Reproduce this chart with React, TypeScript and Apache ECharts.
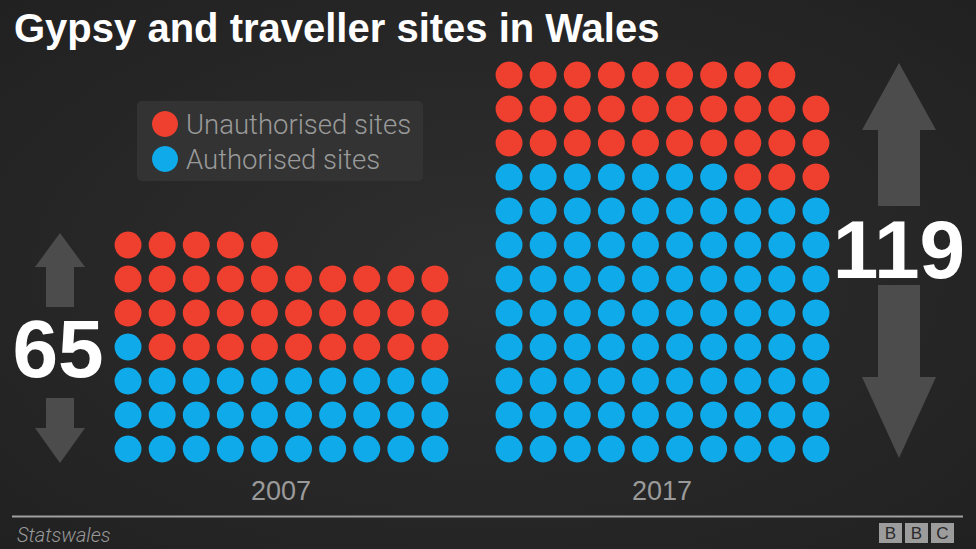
import React, { useEffect, useRef } from "react";
import * as echarts from "echarts";

const years = ["2007", "2017"];
const authorised = [31, 87];
const unauthorised = [34, 32];
const columnsPerRow = 10;
const seriesNames = ["Unauthorised sites", "Authorised sites"];
const colors = { unauthorised: "#ee3f2f", authorised: "#0eaaea" };

function dots(start: number, count: number): number[][] {
  const out: number[][] = [];
  for (let i = start; i < start + count; i++) {
    out.push([i % columnsPerRow, Math.floor(i / columnsPerRow)]);
  }
  return out;
}

function arrowUp(cx: number, tip: number, headBase: number, shaftEnd: number, headHalf: number, shaftHalf: number) {
  return [
    [cx, tip],
    [cx + headHalf, headBase],
    [cx + shaftHalf, headBase],
    [cx + shaftHalf, shaftEnd],
    [cx - shaftHalf, shaftEnd],
    [cx - shaftHalf, headBase],
    [cx - headHalf, headBase],
  ];
}

export default function App() {
  const ref = useRef<HTMLDivElement>(null);
  useEffect(() => {
    if (!ref.current) return;
    const chart = echarts.init(ref.current, undefined, { renderer: "svg" });
    const totals = years.map((_, i) => authorised[i] + unauthorised[i]);
    const grids = [
      { left: 111, top: 58, width: 341, height: 408 },
      { left: 492, top: 58, width: 341, height: 408 },
    ];
    const series: any[] = [];
    years.forEach((_, i) => {
      series.push({
        name: seriesNames[1],
        type: "scatter",
        xAxisIndex: i,
        yAxisIndex: i,
        symbolSize: 27,
        itemStyle: { color: colors.authorised, opacity: 1 },
        data: dots(0, authorised[i]),
        silent: true,
      });
      series.push({
        name: seriesNames[0],
        type: "scatter",
        xAxisIndex: i,
        yAxisIndex: i,
        symbolSize: 27,
        itemStyle: { color: colors.unauthorised, opacity: 1 },
        data: dots(authorised[i], unauthorised[i]),
        silent: true,
      });
    });
    const arrowFill = "#4c4c4c";
    chart.setOption({
      animation: false,
      backgroundColor: "#262626",
      title: {
        text: "Gypsy and traveller sites in Wales",
        left: 9,
        top: 3,
        textStyle: {
          color: "#ffffff",
          fontSize: 40,
          fontWeight: "bold",
          fontFamily: "Liberation Sans",
        },
      },
      legend: {
        data: seriesNames,
        orient: "vertical",
        left: 137,
        top: 101,
        padding: [9, 12, 8, 15],
        itemGap: 7,
        itemWidth: 26,
        itemHeight: 26,
        icon: "circle",
        backgroundColor: "#333333",
        borderRadius: 5,
        selectedMode: false,
        textStyle: {
          color: "#9a9a9a",
          fontSize: 27.5,
          fontWeight: 300,
          fontFamily: "Roboto",
          padding: [0, 0, 0, 3],
        },
      },
      grid: grids,
      xAxis: grids.map((_, i) => ({
        gridIndex: i,
        type: "value",
        min: -0.5,
        max: columnsPerRow - 0.5,
        show: false,
      })),
      yAxis: grids.map((_, i) => ({
        gridIndex: i,
        type: "value",
        min: -0.5,
        max: 11.5,
        show: false,
      })),
      series,
      graphic: [
        {
          type: "rect",
          z: -10,
          silent: true,
          shape: { x: 0, y: 0, width: 976, height: 549 },
          style: {
            fill: {
              type: "radial",
              x: 0.5,
              y: 0.5,
              r: 0.75,
              colorStops: [
                { offset: 0, color: "#2f2f2f" },
                { offset: 1, color: "#202020" },
              ],
            },
          },
        },
        { type: "polygon", shape: { points: arrowUp(60, 233, 267, 307, 25, 14) }, style: { fill: arrowFill } },
        { type: "polygon", shape: { points: arrowUp(60, 463, 428, 398, 25, 14) }, style: { fill: arrowFill } },
        { type: "polygon", shape: { points: arrowUp(899, 63, 130, 206, 37, 21) }, style: { fill: arrowFill } },
        { type: "polygon", shape: { points: arrowUp(899, 458, 377, 285, 37, 21) }, style: { fill: arrowFill } },
        {
          type: "text",
          x: 58,
          y: 348,
          style: {
            text: String(totals[0]),
            fill: "#ffffff",
            fontSize: 82,
            fontWeight: "bold",
            fontFamily: "Liberation Sans",
            textAlign: "center",
            textVerticalAlign: "middle",
          },
        },
        {
          type: "text",
          x: 899,
          y: 249,
          style: {
            text: String(totals[1]),
            fill: "#ffffff",
            fontSize: 82,
            fontWeight: "bold",
            fontFamily: "Liberation Sans",
            textAlign: "center",
            textVerticalAlign: "middle",
          },
        },
        {
          type: "text",
          x: 281,
          y: 491,
          style: {
            text: years[0],
            fill: "#9a9a9a",
            fontSize: 27,
            fontFamily: "Liberation Sans",
            textAlign: "center",
            textVerticalAlign: "middle",
          },
        },
        {
          type: "text",
          x: 662,
          y: 491,
          style: {
            text: years[1],
            fill: "#9a9a9a",
            fontSize: 27,
            fontFamily: "Liberation Sans",
            textAlign: "center",
            textVerticalAlign: "middle",
          },
        },
        {
          type: "line",
          shape: { x1: 12, y1: 516.5, x2: 963, y2: 516.5 },
          style: { stroke: "#a0a0a0", lineWidth: 2 },
        },
        {
          type: "text",
          x: 17,
          y: 535,
          style: {
            text: "Statswales",
            fill: "#9a9a9a",
            fontSize: 20,
            fontStyle: "italic",
            fontWeight: 300,
            fontFamily: "Roboto",
            textVerticalAlign: "middle",
          },
        },
        ...["B", "B", "C"].flatMap((ch, i) => [
          {
            type: "rect",
            shape: { x: 879 + i * 26, y: 523, width: 23, height: 20 },
            style: { fill: "#9c9c9c" },
          },
          {
            type: "text",
            x: 890.5 + i * 26,
            y: 533.5,
            style: {
              text: ch,
              fill: "#2a2a2a",
              fontSize: 17,
              fontFamily: "Liberation Sans",
              textAlign: "center",
              textVerticalAlign: "middle",
            },
          },
        ]),
      ],
    });
    return () => chart.dispose();
  }, []);
  return (
    <div
      ref={ref}
      style={{ position: "absolute", left: 0, top: 0, width: 976, height: 549 }}
    />
  );
}
